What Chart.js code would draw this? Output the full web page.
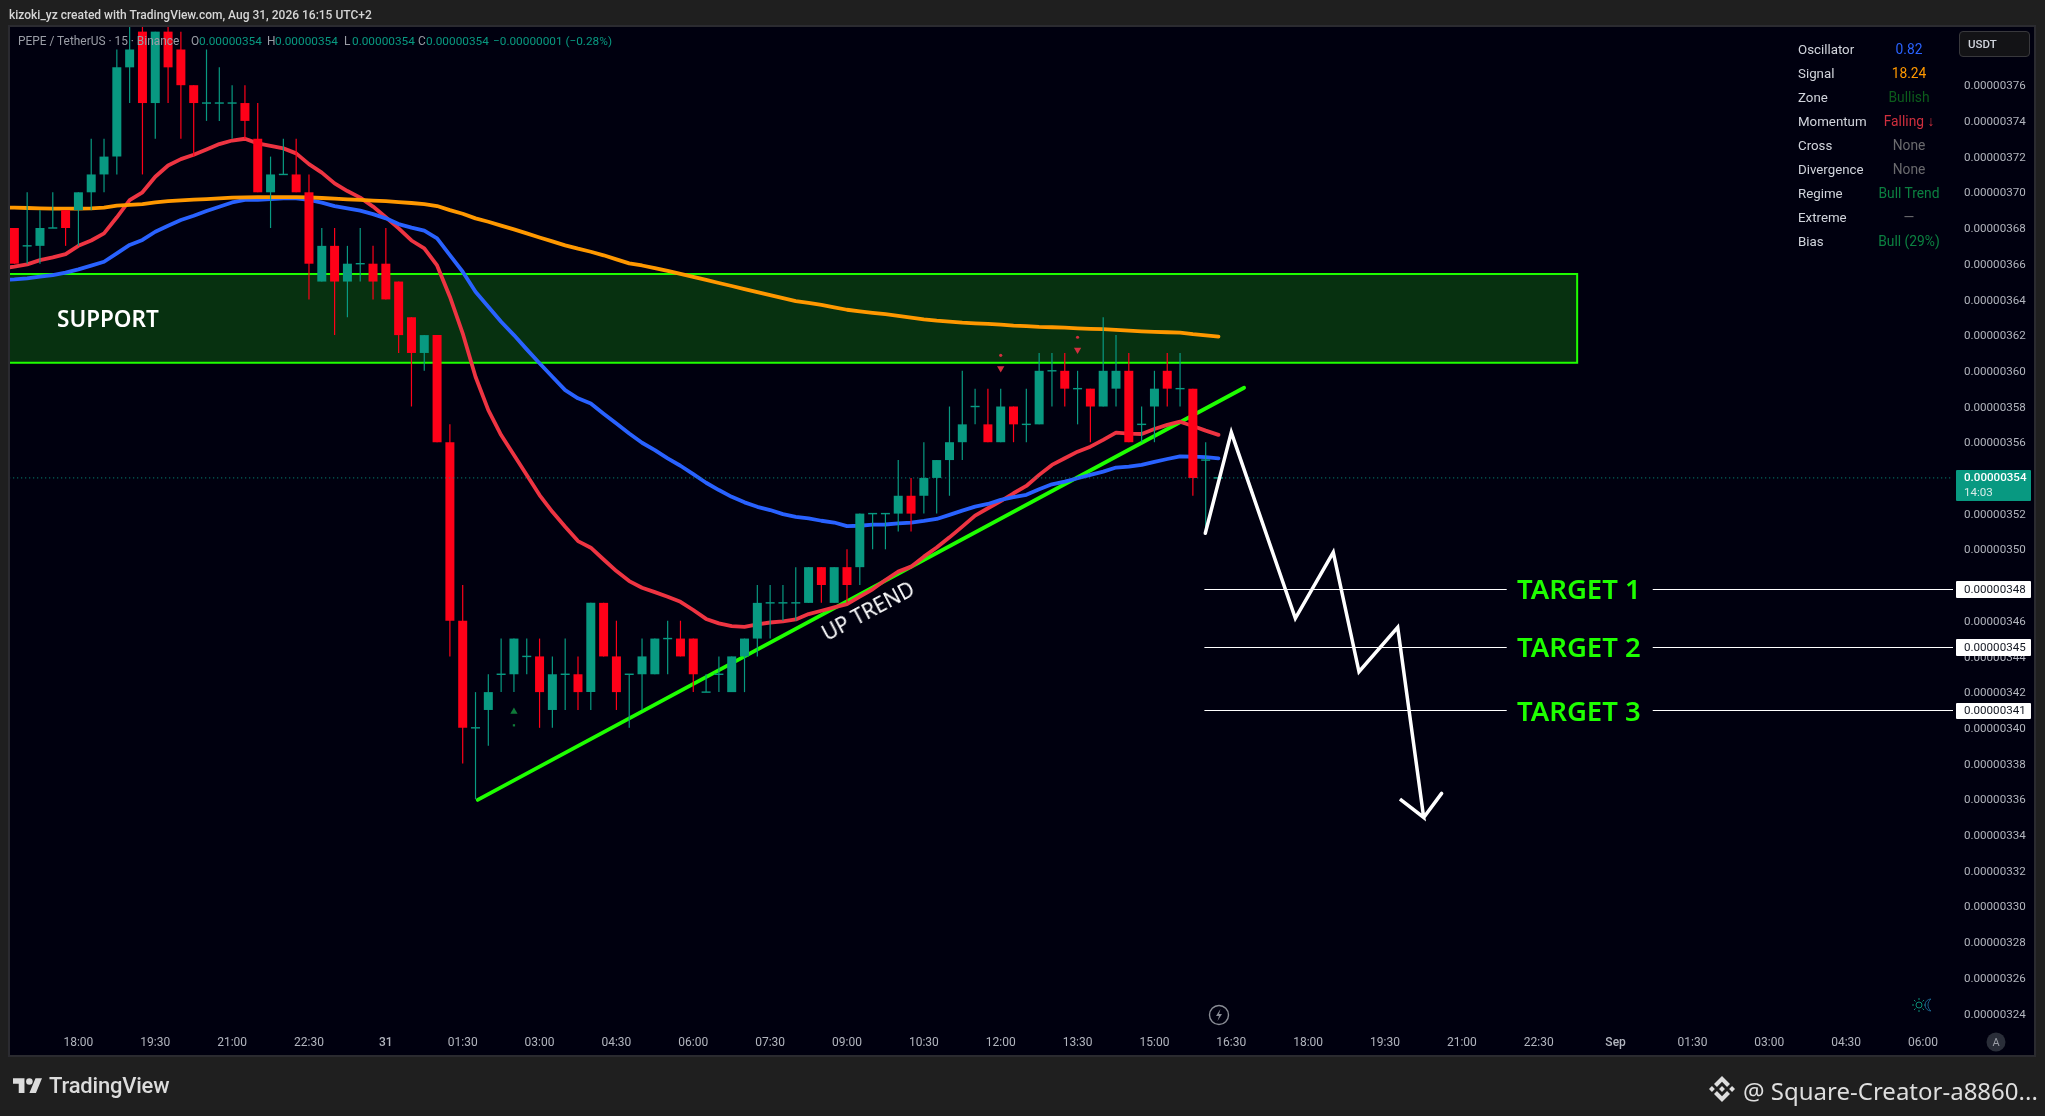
<!DOCTYPE html>
<html><head><meta charset="utf-8">
<script src="https://cdn.jsdelivr.net/npm/chart.js@4/dist/chart.umd.min.js"></script>
<style>
html,body{margin:0;padding:0;background:#1f1f1f;width:2045px;height:1116px;overflow:hidden}
canvas{position:absolute;left:0;top:0}
.t{position:absolute;white-space:nowrap;font-family:Roboto,sans-serif;line-height:1;z-index:5}
.c{transform:translate(-50%,-50%)}
.m{transform:translateY(-50%)}
.box{position:absolute;z-index:4}
svg{position:absolute;z-index:5}
</style></head><body>
<canvas id="c" width="2045" height="1116"></canvas>
<script>
// prices are in units of 0.00000001 USDT
const firstBar = -6;
const candleOpen  = [367,368,367,367,368,369,369,370,371,372,377,379,375,379,378,376,375,375,375,375,373,370,371,371,370,365,367,365,366,366,366,365,363,361,362,356,346,340,341,343,343,344,344,341,343,343,342,347,344,343,343,343,345,345,345,342,343,342,344,345,347,347,347,347,349,347,349,349,352,352,352,353,353,354,355,356,358,357,356,358,357,357,360,360,359,359,358,359,360,357,358,360,359,359,355,354];
const candleHigh  = [368,368,370,369,370,369,370,373,373,378,380,380,379,380,379,376,378,377,376,376,375,372,373,373,371,368,368,367,368,367,368,365,363,362,362,357,348,342,343,345,345,345,345,344,345,344,347,347,346,343,345,345,346,346,345,343,344,344,345,348,348,348,349,349,349,349,350,352,352,352,355,354,356,355,358,360,359,359,359,358,359,361,361,361,360,359,363,362,361,358,360,361,361,359,356,354];
const candleLow   = [366,366,366,366,368,367,367,369,370,371,375,371,373,375,373,372,374,374,373,373,370,368,371,370,364,365,362,363,365,364,364,361,358,360,356,344,338,336,339,342,342,343,340,340,341,341,341,344,341,340,341,343,343,344,342,342,342,342,342,344,345,346,346,347,347,347,347,348,350,350,351,351,352,352,353,355,357,356,356,356,356,357,358,358,357,356,358,358,356,356,356,358,358,353,351,354];
const candleClose = [368,366,367,368,368,368,370,371,372,377,378,375,379,377,376,375,375,375,375,374,370,371,371,370,366,367,365,366,366,365,364,362,361,362,356,346,340,340,342,343,345,344,342,343,343,342,347,344,342,343,344,345,345,344,343,342,343,344,345,347,347,347,347,349,348,349,348,352,352,352,353,352,354,355,356,357,358,356,358,357,357,360,360,359,359,358,360,360,356,357,359,359,359,354,355,354];
const emaFast = [365.75,365.83,365.96,366.2,366.35,366.54,367,367.3,367.7,368.6,369.56,370,370.87,371.5,371.86,372.1,372.4,372.7,372.9,373,372.74,372.6,372.46,372.18,371.58,371.1,370.5,370.07,369.7,369.2,368.6,367.98,367.3,366.86,365.9,364.15,362.1,359.67,357.8,356.4,355.28,354.16,353.04,352.1,351.26,350.46,350.09,349.43,348.78,348.22,347.85,347.6,347.34,347.06,346.6,346.1,345.85,345.7,345.66,345.8,345.9,345.96,346.07,346.37,346.56,346.75,346.93,347.35,347.76,348.28,348.75,349.03,349.59,350.1,350.67,351.27,351.89,352.3,352.7,353.14,353.55,354.17,354.73,355.1,355.47,355.75,356.13,356.54,356.48,356.46,356.74,356.97,357.15,356.91,356.65,356.41];
const emaMid = [365.08,365.12,365.18,365.27,365.36,365.5,365.68,365.89,366.11,366.58,367.05,367.33,367.79,368.13,368.45,368.69,368.95,369.19,369.43,369.57,369.58,369.62,369.66,369.66,369.57,369.42,369.23,369.1,368.97,368.78,368.54,368.22,368.02,367.85,367.42,366.48,365.55,364.43,363.59,362.75,362,361.2,360.42,359.67,358.92,358.46,358.17,357.6,357.05,356.49,355.97,355.56,355.09,354.68,354.21,353.73,353.32,352.94,352.63,352.38,352.2,351.97,351.82,351.73,351.6,351.5,351.3,351.32,351.38,351.39,351.45,351.5,351.59,351.7,351.93,352.17,352.39,352.54,352.77,352.92,353.05,353.36,353.64,353.79,353.98,354.17,354.35,354.58,354.63,354.73,354.9,355.06,355.21,355.19,355.16,355.1];
const emaSlow = [369.16,369.14,369.12,369.1,369.08,369.08,369.08,369.1,369.14,369.25,369.3,369.34,369.43,369.5,369.55,369.59,369.62,369.66,369.7,369.71,369.73,369.73,369.73,369.73,369.71,369.68,369.64,369.6,369.57,369.53,369.5,369.45,369.4,369.34,369.23,369,368.8,368.54,368.35,368.13,367.92,367.7,367.47,367.25,367.03,366.84,366.67,366.47,366.24,366.02,365.9,365.75,365.6,365.43,365.26,365.09,364.92,364.75,364.58,364.41,364.24,364.07,363.9,363.8,363.69,363.56,363.42,363.33,363.25,363.17,363.08,362.98,362.88,362.81,362.76,362.7,362.66,362.63,362.59,362.53,362.5,362.46,362.44,362.42,362.38,362.35,362.33,362.29,362.25,362.21,362.18,362.16,362.14,362.05,361.99,361.92];
const timeLabels = ['18:00','19:30','21:00','22:30','31','01:30','03:00','04:30','06:00','07:30','09:00','10:30','12:00','13:30','15:00','16:30','18:00','19:30','21:00','22:30','Sep','01:30','03:00','04:30','06:00'];
const lastPrice = 354;
const supportTop = 365.42, supportBottom = 360.45, supportEndBar = 117;
const trendBars = [31.17,91], trendValues = [335.96,359.05];
const pathBars   = [87.97,90,95,97.96,99.97,102.99,105.02,103.17,105.02,106.42];
const pathValues = [350.9,356.55,346.13,349.83,343.14,345.63,334.98,336.01,334.98,336.33];
const targetValues = [347.749,344.5,340.97];
const targetLabels = ['TARGET 1','TARGET 2','TARGET 3'];
const targetPriceLabels = ['0.00000348','0.00000345','0.00000341'];
const upMarks = {bars:[34],tri:[340.9],dot:[340.14]};
const downMarks = {bars:[72,78],tri:[360.14,361.17],dot:[360.87,361.88]};
const tableRows = [['Oscillator','0.82','#2962ff'],['Signal','18.24','#ff9800'],['Zone','Bullish','#0c5c1c'],['Momentum','Falling ↓','#cf2f3e'],['Cross','None','#6a6a6e'],['Divergence','None','#6a6a6e'],['Regime','Bull Trend','#0b8041'],['Extreme','—','#6a6a6e'],['Bias','Bull (29%)','#0b8041']];

const UP='#089981', DOWN='#ff0018', GREEN='#1eff00';
const xMin=-5.34, xMax=146.34, yMin=323.24, yMax=379.26;
const bars=candleOpen.map((_,i)=>i+firstBar);
const pts=a=>a.map((v,i)=>({x:bars[i],y:v}));
const colors=candleOpen.map((o,i)=>candleClose[i]>=o?UP:DOWN);
const seg=(xs,ys)=>xs.map((x,i)=>({x,y:ys[i]}));
const lineBase={type:'line',pointRadius:0,tension:0,fill:false,borderCapStyle:'round',borderJoinStyle:'round'};

const datasets=[
 {...lineBase,label:'Support',order:100,data:seg([-8,supportEndBar],[supportTop,supportTop]),borderWidth:0,borderColor:'transparent',fill:{value:supportBottom},backgroundColor:'#073110'},
 {...lineBase,label:'Support edge',order:99,data:seg([-8,supportEndBar,supportEndBar,-8],[supportTop,supportTop,supportBottom,supportBottom]),borderColor:GREEN,borderWidth:2,borderCapStyle:'butt',borderJoinStyle:'miter'},
 {...lineBase,label:'Up trend',order:95,data:seg(trendBars,trendValues),borderColor:GREEN,borderWidth:3.8},
 {...lineBase,label:'EMA fast',order:92,data:pts(emaFast),borderColor:'#ee3442',borderWidth:3.8},
 {...lineBase,label:'EMA mid',order:91,data:pts(emaMid),borderColor:'#2962ff',borderWidth:3.8},
 {...lineBase,label:'EMA slow',order:90,data:pts(emaSlow),borderColor:'#ff9800',borderWidth:3.8},
 {type:'bar',label:'Wick',order:80,grouped:false,maxBarThickness:1.2,inflateAmount:0,borderWidth:0,backgroundColor:colors,data:bars.map((x,i)=>({x,y:[candleLow[i],candleHigh[i]]}))},
 {type:'bar',label:'Body',order:79,grouped:false,maxBarThickness:9,inflateAmount:0,borderWidth:0,backgroundColor:colors,data:bars.map((x,i)=>{const o=candleOpen[i],c=candleClose[i];return {x,y:o===c?[o-0.04,o+0.04]:[o,c]};})},
 {...lineBase,label:'Last price',order:70,data:seg([xMin-1,xMax+1],[lastPrice,lastPrice]),borderColor:UP,borderWidth:1,borderDash:[1,3],borderCapStyle:'butt'},
 {type:'scatter',label:'Up marker',order:60,data:seg(upMarks.bars,upMarks.tri),pointStyle:'triangle',pointRadius:4.2,pointBackgroundColor:'#0f7a3a',pointBorderWidth:0},
 {type:'scatter',label:'Up dot',order:60,data:seg(upMarks.bars,upMarks.dot),pointStyle:'rect',pointRadius:1.6,pointBackgroundColor:'#0f7a3a',pointBorderWidth:0},
 {type:'scatter',label:'Down marker',order:60,data:seg(downMarks.bars,downMarks.tri),pointStyle:'triangle',rotation:180,pointRotation:180,pointRadius:4.2,pointBackgroundColor:'#d22f3f',pointBorderWidth:0},
 {type:'scatter',label:'Down dot',order:60,data:seg(downMarks.bars,downMarks.dot),pointStyle:'circle',pointRadius:1.6,pointBackgroundColor:'#d22f3f',pointBorderWidth:0},
];
targetValues.forEach((v,i)=>{
 datasets.push({...lineBase,label:'Target L'+i,order:55,data:seg([87.9,111.5],[v,v]),borderColor:'#ffffff',borderWidth:1.1,borderCapStyle:'butt'});
 datasets.push({...lineBase,label:'Target R'+i,order:55,data:seg([122.9,xMax],[v,v]),borderColor:'#ffffff',borderWidth:1.1,borderCapStyle:'butt'});
});
datasets.push({...lineBase,label:'Projection',order:50,data:seg(pathBars,pathValues),borderColor:'#ffffff',borderWidth:3.5,borderJoinStyle:'miter'});

const paneBg={id:'paneBg',beforeDraw(ch){const g=ch.ctx;g.save();g.fillStyle='#1f1f1f';g.fillRect(0,0,2045,1116);
 g.fillStyle='#00000f';g.fillRect(10,27,2024,1028);g.strokeStyle='#2b2b30';g.lineWidth=2;g.strokeRect(9,26,2026,1030);g.restore();}};

const boldTick=v=>{const l=timeLabels[v/6];return l==='Sep'||l==='31';};
const chart=new Chart(document.getElementById('c'),{
 data:{datasets},
 plugins:[paneBg],
 options:{responsive:false,animation:false,devicePixelRatio:1,
  layout:{padding:{left:10,top:27,right:11,bottom:61}},
  plugins:{legend:{display:false},tooltip:{enabled:false}},
  scales:{
   x:{type:'linear',min:xMin,max:xMax,offset:false,border:{display:false},grid:{display:false,drawTicks:false},
      afterFit(s){s.height=28;},
      ticks:{stepSize:6,autoSkip:false,maxRotation:0,minRotation:0,includeBounds:false,padding:9,
        color:'#b2b5be',
        font:c=>({family:'Roboto',size:12,weight:(c.tick&&boldTick(c.tick.value))?'500':'400'}),
        callback:v=>timeLabels[v/6]??''}},
   y:{type:'linear',position:'right',min:yMin,max:yMax,border:{display:false},grid:{display:false,drawTicks:false},
      afterFit(s){s.width=81;},
      ticks:{stepSize:2,includeBounds:false,autoSkip:false,padding:11,labelOffset:1.2,color:'#b2b5be',font:{family:'Roboto',size:11.6},
        callback:v=>(v/1e8).toFixed(8)}}
  }}
});

// overlay text, positioned from the chart's scales where it belongs to a value
const sx=chart.scales.x, sy=chart.scales.y;
function T(txt,x,y,css,cls){const d=document.createElement('div');d.className='t '+(cls===undefined?'m':cls);d.textContent=txt;d.style.left=x+'px';d.style.top=y+'px';d.style.cssText+=css||'';document.body.appendChild(d);return d;}
function B(x,y,w,h,css){const d=document.createElement('div');d.className='box';d.style.cssText+=`left:${x}px;top:${y}px;width:${w}px;height:${h}px;`+(css||'');document.body.appendChild(d);}

T('kizoki_yz created with TradingView.com, Aug 31, 2026 16:15 UTC+2',9,15,'font-size:12px;font-weight:500;color:#d6d6d6;');
const lg='font-size:11.9px;color:#9a9da6;', val='font-size:11.8px;color:#089981;';
T('PEPE / TetherUS · 15 · Binance',18,42,lg);
[['O',191],['H',267],['L',344],['C',418]].forEach(([k,x])=>{T(k,x,42,lg);T('0.00000354',x+8,42,val);});
T('−0.00000001 (−0.28%)',493,42,val);

tableRows.forEach((r,i)=>{const y=49.5+24*i;T(r[0],1798,y,'font-size:13.3px;color:#d1d4dc;');T(r[1],1909,y,`font-size:13.8px;color:${r[2]};`,'c');});

B(1959,31,71,26,'background:#131316;border:1px solid #38383c;border-radius:4px;box-sizing:border-box;');
T('USDT',1968,44.5,'font-size:11.5px;font-weight:500;color:#d1d4dc;');

T('SUPPORT',57,319,'font-family:"Noto Sans";font-size:22.5px;font-weight:600;color:#fff;');
T('UP TREND',868,611,'font-family:"Noto Sans";font-size:21px;color:#fff;transform:translate(-50%,-50%) rotate(-28deg);','');

targetValues.forEach((v,i)=>{const y=sy.getPixelForValue(v);
 T(targetLabels[i],1517,y,'font-family:"Noto Sans";font-size:27.5px;font-weight:600;color:#1eff00;');
 B(1956,y-8,75,16.5,'background:#fff;border-radius:1px;');
 T(targetPriceLabels[i],1964,y+.5,'font-size:11.6px;color:#131722;');
});
const ly=sy.getPixelForValue(lastPrice);
B(1956,ly-8,75,31,'background:#089981;border-radius:1px;');
T('0.00000354',1964,ly+.5,'font-size:11.6px;font-weight:500;color:#fff;');
T('14:03',1964,ly+15,'font-size:11.6px;color:#d8ece8;');

T('TradingView',49,1086,'font-size:22px;font-weight:500;color:#dcdcdc;letter-spacing:-.2px;');
T('@ Square-Creator-a8860...',1743,1091,'font-family:"Noto Sans";font-size:24px;color:#dedede;');

document.body.insertAdjacentHTML('beforeend',`
<svg style="left:12.5px;top:1078px" width="29.5" height="15" viewBox="0 4 36 18"><path fill="#dcdcdc" d="M14 22H7V11H0V4h14v18zM28 22h-8l7.5-18h8L28 22z"/><circle fill="#dcdcdc" cx="20" cy="8" r="4"/></svg>
<svg style="left:1709px;top:1076px" width="26" height="26" viewBox="0 0 32 32"><path fill="#dedede" d="M9.78 13.45L16 7.23l6.22 6.22 3.62-3.62L16 0 6.16 9.84zM0 16l3.62-3.62L7.24 16l-3.62 3.62zM9.78 18.55L16 24.77l6.22-6.22 3.62 3.62L16 32 6.16 22.16zM24.76 16l3.62-3.62L32 16l-3.62 3.62zM19.67 16L16 12.33 12.33 16 16 19.67z"/></svg>
<svg style="left:1208px;top:1004px" width="22" height="22" viewBox="0 0 22 22"><circle cx="11" cy="11" r="9.5" fill="none" stroke="#8a8d96" stroke-width="1.4"/><path d="M12.5 5 8 12h3l-1.5 5 4.5-7h-3z" fill="#8a8d96"/></svg>
<svg style="left:1912px;top:997px" width="22" height="16" viewBox="0 0 22 16"><circle cx="7" cy="8" r="3" fill="none" stroke="#0b8f78" stroke-width="1"/><path d="M7 1v2M7 13v2M0 8h2M12 8h2M2 3l1.5 1.5M12 3l-1.5 1.5M2 13l1.5-1.5M12 13l-1.5-1.5" stroke="#0b8f78" stroke-width="1"/><path d="M19 2a6 6 0 0 0 0 12a7.5 7.5 0 0 1 0-12z" fill="none" stroke="#1a5f8a" stroke-width="1"/></svg>
<svg style="left:1986px;top:1032px" width="20" height="20" viewBox="0 0 20 20"><circle cx="10" cy="10" r="9.5" fill="#2a2e39"/></svg>`);
T('A',1996,1042,'font-size:11px;color:#9a9da6;z-index:6;','c');
</script>
</body></html>
